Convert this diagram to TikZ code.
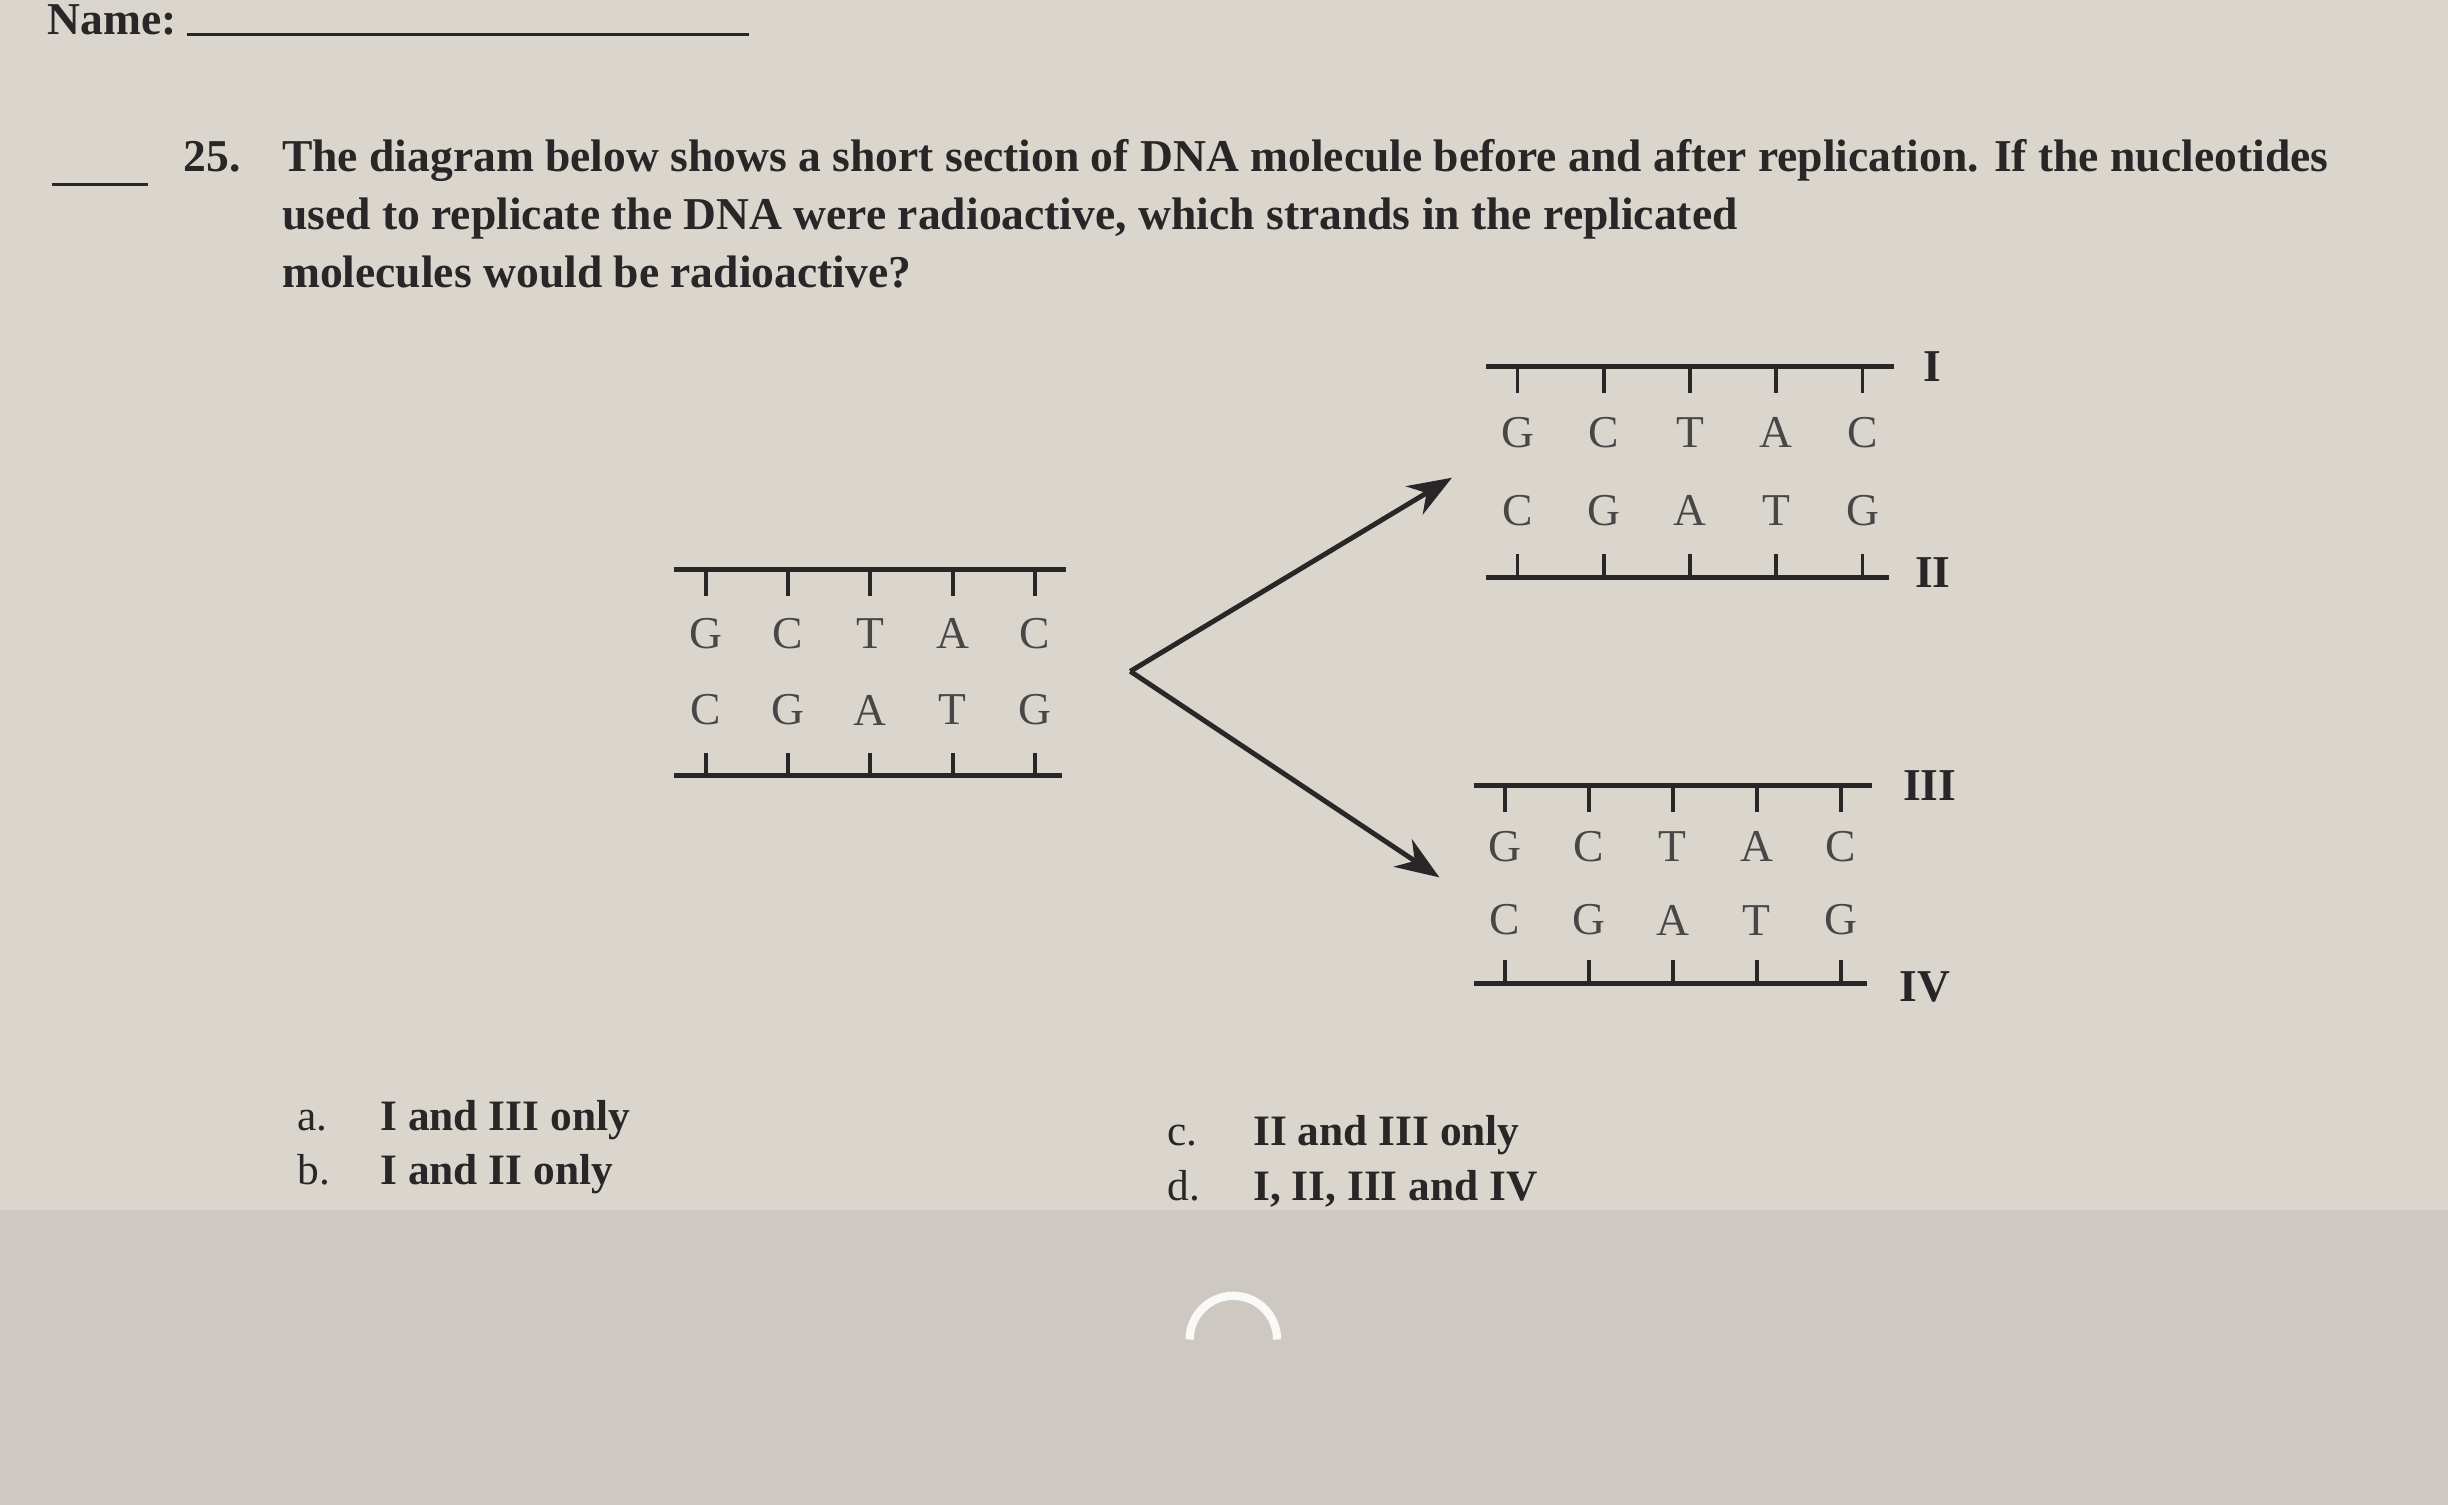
\documentclass[tikz,border=0pt]{standalone}
\usepackage{fontspec}
\setmainfont{Liberation Serif}
\usetikzlibrary{arrows.meta}
\definecolor{paper}{RGB}{218,214,206}
\definecolor{paperb}{RGB}{205,201,194}
\definecolor{ink}{RGB}{40,38,38}
\tikzset{
  qtext/.style={font=\fontsize{8.3pt}{10pt}\selectfont\bfseries,text=ink,inner sep=0pt},
  atext/.style={font=\fontsize{7.9pt}{10pt}\selectfont\bfseries,text=ink,inner sep=0pt},
  ans/.style={font=\fontsize{7.9pt}{10pt}\selectfont,text=ink,inner sep=0pt},
  base/.style={font=\fontsize{8.3pt}{10pt}\selectfont,text=ink!85,inner sep=0pt},
  strand/.style={draw=ink,line width=0.9pt},
  tick/.style={draw=ink,line width=0.7pt},
  arr/.style={draw=ink,line width=0.9pt,-{Stealth[length=8pt,width=6pt]}}
}
\begin{document}
\begin{tikzpicture}[x=0.01cm,y=-0.01cm]
\useasboundingbox (0,0) rectangle (1568,964);
\fill[paper] (0,0) rectangle (1568,964);
\fill[paperb] (0,775) rectangle (1568,964);
\node[qtext,anchor=base west] (name) at (30,22) {Name:};
\draw[ink,line width=0.6pt] (120,22) -- (480,22);
\draw[ink,line width=0.6pt] (33,118) -- (95,118);
\node[qtext,anchor=base west] (num) at (117,110) {25.};
\node[qtext,anchor=base west] (l1) at (180,110) {The diagram below shows a short section of DNA molecule before and after replication. If the nucleotides};
\node[qtext,anchor=base west] (l2) at (180,147) {used to replicate the DNA were radioactive, which strands in the replicated};
\node[qtext,anchor=base west] (l3) at (180,184) {molecules would be radioactive?};
\newcommand{\dnaunit}[5]{%
  \draw[strand] (#1,#2) -- ++(#3,0);
  \draw[strand] (#1,#2+#4) -- ++(#3-3,0);
  \foreach \i/\a/\b in {0/G/C,1/C/G,2/T/A,3/A/T,4/C/G}{
    \pgfmathsetmacro{\xx}{#1+20+\i*(#3-40)/4}
    \draw[tick] (\xx,#2) -- ++(0,17);
    \draw[tick] (\xx,#2+#4) -- ++(0,-15);
    \node[base] at (\xx,#2+#4*0.31) {\a};
    \node[base] at (\xx,#2+#4*0.68) {\b};
  }
  \coordinate (#5) at (#1,#2+#4/2);
}
\dnaunit{432}{365}{251}{132}{left}
\dnaunit{952}{235}{261}{135}{up}
\dnaunit{944}{503}{255}{127}{down}
\node[qtext] (lI) at (1238,235) {I};
\node[qtext] (lII) at (1238,367) {II};
\node[qtext] (lIII) at (1236,503) {III};
\node[qtext] (lIV) at (1233,632) {IV};
\coordinate (v) at (724,430);
\coordinate (ua) at (930,306);
\coordinate (da) at (922,562);
\draw[arr] (v) -- (ua);
\draw[arr] (v) -- (da);
\node[ans,anchor=base west] (a) at (190,724) {a.};
\node[atext,anchor=base west] (at) at (243,724) {I and III only};
\node[ans,anchor=base west] (b) at (190,759) {b.};
\node[atext,anchor=base west] (bt) at (243,759) {I and II only};
\node[ans,anchor=base west] (c) at (747,734) {c.};
\node[atext,anchor=base west] (ct) at (802,734) {II and III only};
\node[ans,anchor=base west] (d) at (747,769) {d.};
\node[atext,anchor=base west] (dt) at (802,769) {I, II, III and IV};
\draw[white!85!paper,line width=1.5pt] (762,858) arc (180:360:28);
\end{tikzpicture}
\end{document}
